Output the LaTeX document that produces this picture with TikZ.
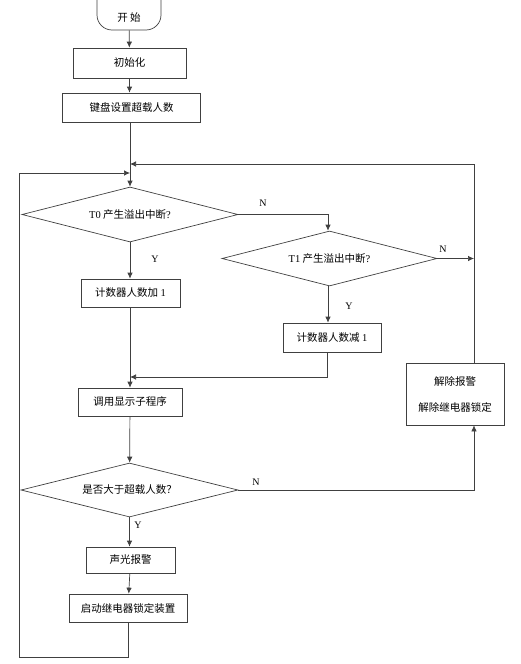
\documentclass[tikz,border=0pt]{standalone}
\usepackage{fontspec}
\setmainfont{Liberation Serif}
\newfontfamily\cjk{Noto Sans CJK SC}
\usetikzlibrary{shapes.geometric,arrows.meta}

\tikzset{
  line/.style={draw=black!75, line width=0.7pt},
  arr/.style={line, -{Latex[length=6pt,width=5.5pt]}},
  box/.style={line, rectangle, inner sep=0pt, font=\cjk\fontsize{10.5}{12}\selectfont},
  term/.style={box, rounded corners=15pt, text height=26pt, text depth=0pt},
  test/.style={line, diamond, inner sep=0pt, aspect=3.9, font=\cjk\fontsize{10.5}{12}\selectfont},
  lbl/.style={inner sep=0pt, font=\fontsize{10}{12}\selectfont}
}

\begin{document}
\begin{tikzpicture}[x=1pt, y=-1pt]
  \useasboundingbox (0,0) rectangle (520,664);

  % main column
  \node[term, minimum width=64, minimum height=44] (start) at (129,8) {开 始};
  \node[box, minimum width=113, minimum height=30] (init) at (129.5,63) {初始化};
  \node[box, minimum width=138, minimum height=29] (kbd) at (131.5,107.5) {键盘设置超载人数};

  \node[test, minimum width=216, minimum height=55] (t0) at (130,214.5) {{\rmfamily T0} 产生溢出中断{\rmfamily ?}};
  \node[test, minimum width=215, minimum height=55] (t1) at (329.5,258.5) {{\rmfamily T1} 产生溢出中断{\rmfamily ?}};

  \node[box, minimum width=99, minimum height=28] (inc) at (130.5,293) {计数器人数加 {\rmfamily 1}};
  \node[box, minimum width=98, minimum height=29] (dec) at (332,337.5) {计数器人数减 {\rmfamily 1}};
  \node[box, minimum width=104, minimum height=28] (disp) at (130,402) {调用显示子程序};

  \node[test, minimum width=217, minimum height=54] (over) at (129.5,490) {是否大于超载人数？};
  \node[box, minimum width=89, minimum height=26] (alarm) at (130.5,560) {声光报警};
  \node[box, minimum width=118, minimum height=28] (relay) at (128,608) {启动继电器锁定装置};

  \node[box, minimum width=98, minimum height=62, align=center] (clear) at (455,394) {解除报警\\[14pt]解除继电器锁定};

  % branch labels
  \node[lbl] (n0) at (263,203) {N};
  \node[lbl] (y0) at (155,259) {Y};
  \node[lbl] (n1) at (443,249) {N};
  \node[lbl] (y1) at (349,306) {Y};
  \node[lbl] (n2) at (256,482) {N};
  \node[lbl] (y2) at (138,525) {Y};

  % joints
  \coordinate (top) at (130,164);
  \coordinate (back) at (130,173);
  \coordinate (mid) at (130,377);
  \coordinate (right) at (474,258.5);
  \coordinate (low) at (19,657);

  \draw[arr] (start) -- (init);
  \draw[arr] (init.south) -- (init.south |- kbd.north);
  \draw[arr] (kbd.south -| t0) -- (t0.north);

  \draw[arr] (t0.east) -| (t1.north -| 328,0);
  \draw[arr] (t0.south) -- (t0.south |- inc.north);
  \draw[arr] (t1.east) -- (right);
  \draw[arr] (t1.south -| 328,0) -- (dec.north -| 328,0);

  \draw[arr] (dec.south -| 327,0) -- (mid -| 327,0) -- (mid);
  \draw[arr] (inc.south -| disp) -- (disp.north);
  \draw[arr] (disp) -- (over);

  \draw[arr] (over.east) -| (clear.south -| right);
  \draw[arr] (clear.north -| right) -- (right |- top) -- (top);

  \draw[arr] (over.south) -- (over.south |- alarm.north);
  \draw[arr] (alarm) -- (relay);
  \draw[arr] (relay.south) -- (relay.south |- low) -- (low) -- (low |- back) -- (back);
\end{tikzpicture}
\end{document}
